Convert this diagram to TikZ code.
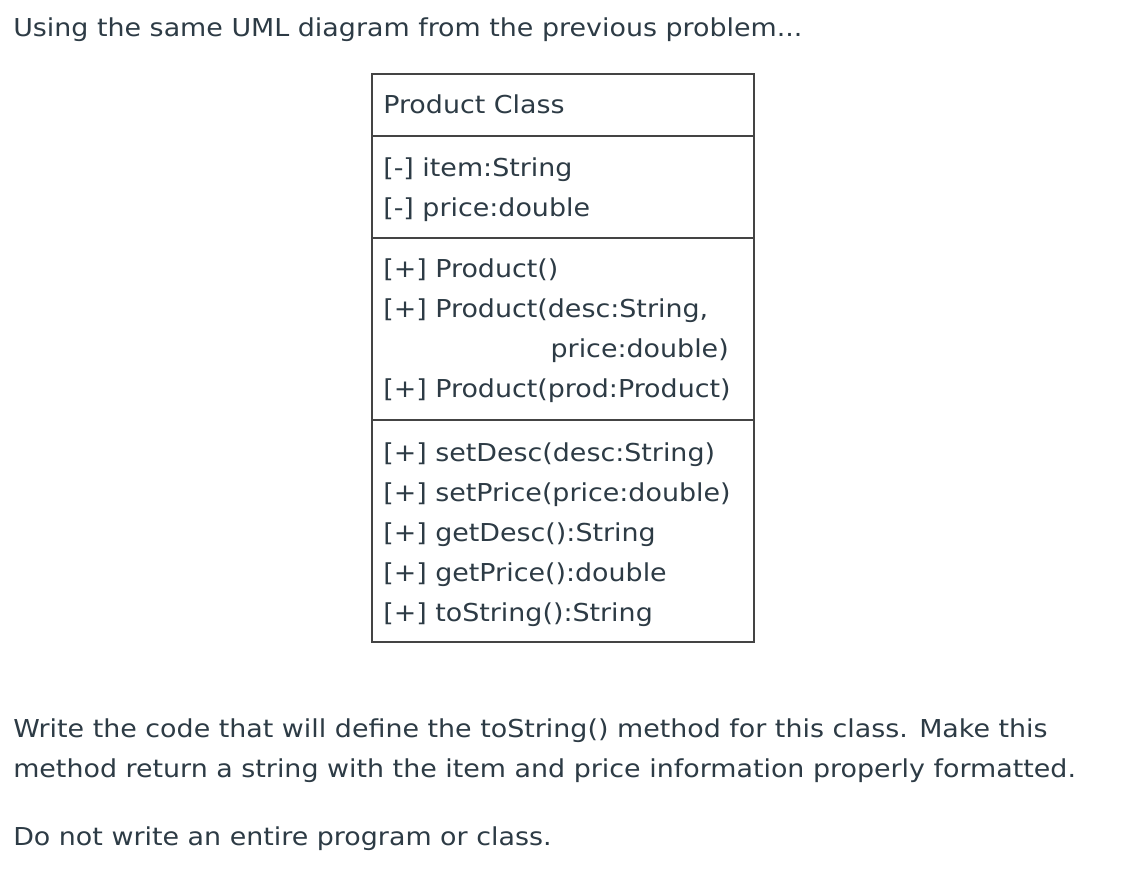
\documentclass[tikz,border=0pt]{standalone}
\usepackage{fontspec}
\setmainfont{DejaVu Sans}[FakeStretch=1.09]
\usepackage{tikz}
\usetikzlibrary{positioning}
\definecolor{inktext}{HTML}{2D3B45}
\definecolor{inkline}{HTML}{444444}
\newcommand{\pxu}{0.75pt}
\tikzset{
    %Define style for plain text lines
    prose/.style={
           anchor=base west,
           inner sep=0pt,
           text=inktext,
           font=\fontsize{18.5}{24}\selectfont},
    %Define style for class compartments
    compart/.style={
           rectangle,
           anchor=north west,
           draw=inkline, line width=1.1pt,
           minimum width=382*\pxu,
           inner sep=0pt, outer sep=0pt},
    %Define style for member lines
    member/.style={
           prose}
}
\begin{document}
\begin{tikzpicture}[x=\pxu,y=-\pxu]

 %canvas
\path[fill=white,use as bounding box] (0,0) rectangle (1122,884);

 %question
\node[prose](q1) at (13,37){Using the same UML diagram from the previous problem...};

 %class box
\node[compart, minimum height=62*\pxu](head) at (372,74){};
\node[compart, minimum height=102*\pxu](attrs) at (372,136){};
\node[compart, minimum height=182*\pxu](ctors) at (372,238){};
\node[compart, minimum height=222*\pxu](meths) at (372,420){};

\node[member](name) at (383,114){Product Class};

\node[member](a1) at (383,177){[-] item:String};
\node[member](a2) at (383,217){[-] price:double};

\node[member](c1) at (383,278){[+] Product()};
\node[member](c2) at (383,318){[+] Product(desc:String,};
\node[member, anchor=base east](c2b) at (729,358){price:double)};
\node[member](c3) at (383,398){[+] Product(prod:Product)};

\node[member](m1) at (383,461){[+] setDesc(desc:String)};
\node[member](m2) at (383,501){[+] setPrice(price:double)};
\node[member](m3) at (383,541){[+] getDesc():String};
\node[member](m4) at (383,581){[+] getPrice():double};
\node[member](m5) at (383,621){[+] toString():String};

 %task
\node[prose](t1) at (13,737){Write the code that will define the toString() method for this class. Make this};
\node[prose](t2) at (13,777){method return a string with the item and price information properly formatted.};
\node[prose](t3) at (13,845){Do not write an entire program or class.};

\end{tikzpicture}
\end{document}
